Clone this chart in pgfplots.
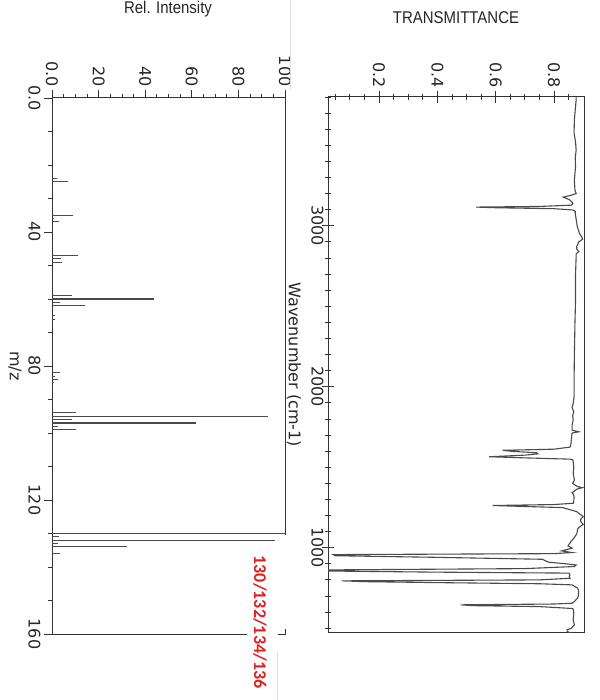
\documentclass[border=0pt]{standalone}
\usepackage{pgfplots}
\pgfplotsset{compat=1.18}
\usepackage{fontspec}
\setmainfont{DejaVu Sans}
\newfontfamily\titlefont[FakeStretch=0.88]{Liberation Sans}
\newfontfamily\redfont{Carlito}
\definecolor{ln}{HTML}{4A4A4A}
\definecolor{ax}{HTML}{333333}
\definecolor{lbl}{HTML}{E02020}
\pgfplotsset{rotstyle/.style={
  scale only axis, anchor=south west,
  axis line style={ax, line width=1pt},
  every tick/.style={ax, line width=0.8pt},
  tick label style={font=\fontsize{16}{18}\selectfont, text=black!85},
  /pgf/number format/assume math mode=true,
  xticklabel style={rotate=-90, anchor=east},
  yticklabel style={rotate=-90, anchor=north},
  xtick pos=right, xticklabel pos=right, ytick pos=left,
}}
\begin{document}
\begin{tikzpicture}[x=1pt,y=1pt]
\path[use as bounding box] (0,0) rectangle (599,700);
% ---------------- Mass spectrum ----------------
\begin{axis}[rotstyle, at={(52pt,66pt)}, width=233pt, height=536pt,
  xmin=0, xmax=100, ymin=0, ymax=160, y dir=reverse,
  xtick={0,20,40,60,80,100}, xticklabels={0.0,20,40,60,80,100},
  minor x tick num=3,
  ytick={0,40,80,120,160}, yticklabels={0.0,40,80,120,160},
  minor y tick num=3,
  tick align=outside, major tick length=8pt, minor tick length=4pt,
  clip=false]
\addplot[xcomb, ln, line width=1.1pt] coordinates {
(2,24) (6.7,25) (9.2,35) (1,36) (3.1,37) (11.3,47) (3.9,48) (4.1,49)
(8.4,59) (43.9,60) (3.4,61) (14.2,62) (1.3,65) (1.3,66)
(3.4,82) (1.3,83) (2.4,84) (1,85)
(10.2,94) (92.6,95) (8.4,96) (61.7,97) (2.4,98) (10.3,99)
(100,130) (3,131) (95.7,132) (2.4,133) (32.3,134) (0.5,135) (3.4,136)
};
\end{axis}
% ---------------- IR spectrum ----------------
\begin{axis}[rotstyle, at={(328pt,67pt)}, width=256pt, height=536pt,
  xmin=0.025, xmax=0.903, ymin=470, ymax=3800,
  xtick={0.2,0.4,0.6,0.8}, xticklabels={0.2,0.4,0.6,0.8},
  minor xtick={0.05,0.1,0.15,0.25,0.3,0.35,0.45,0.5,0.55,0.65,0.7,0.75,0.85},
  ytick={1000,2000,3000}, yticklabels={1000,2000,3000},
  minor ytick={500,600,...,3800},
  yticklabel shift=-5pt,
  tick align=center, major tick length=12pt, minor tick length=6pt]
\addplot[ln, line width=1.1pt] table[x=T, y=wn] {
wn T
3800 0.876
3781 0.876
3700 0.872
3657 0.870
3574 0.869
3520 0.874
3471 0.876
3420 0.873
3367 0.874
3284 0.870
3222 0.872
3200 0.876
3190 0.860
3178 0.832
3168 0.845
3160 0.855
3140 0.865
3128 0.860
3120 0.750
3116 0.533
3112 0.600
3106 0.800
3098 0.865
3090 0.873
3077 0.873
2995 0.880
2950 0.888
2932 0.895
2916 0.898
2900 0.885
2870 0.878
2855 0.878
2840 0.885
2825 0.876
2808 0.876
2700 0.874
2539 0.874
2400 0.872
2200 0.870
2042 0.869
1939 0.869
1897 0.866
1870 0.862
1845 0.868
1820 0.864
1794 0.866
1760 0.862
1730 0.862
1720 0.885
1712 0.862
1680 0.860
1640 0.858
1625 0.855
1612 0.800
1605 0.624
1598 0.660
1590 0.740
1583 0.745
1575 0.700
1565 0.578
1558 0.700
1550 0.855
1545 0.865
1500 0.868
1463 0.866
1420 0.870
1400 0.864
1380 0.880
1373 0.898
1365 0.880
1342 0.862
1335 0.866
1317 0.869
1290 0.868
1276 0.866
1268 0.800
1262 0.590
1256 0.700
1249 0.830
1224 0.878
1193 0.900
1173 0.890
1160 0.893
1145 0.900
1120 0.882
1085 0.878
1059 0.868
1038 0.858
1011 0.848
997 0.862
980 0.826
970 0.862
963 0.800
957 0.043
950 0.050
940 0.400
928 0.760
910 0.781
900 0.840
893 0.876
883 0.870
870 0.700
862 0.026
855 0.026
848 0.400
842 0.852
830 0.855
821 0.852
810 0.855
800 0.750
794 0.072
789 0.150
783 0.400
776 0.750
769 0.862
750 0.880
738 0.884
700 0.884
686 0.880
665 0.870
655 0.862
650 0.800
645 0.480
640 0.520
634 0.750
622 0.865
600 0.868
552 0.866
520 0.870
500 0.860
490 0.845
479 0.845
470 0.860
};
\end{axis}
% white patch behind the red label (as in the reference)
\fill[white] (247,0) rectangle (278,155);
\fill[white] (280,71) rectangle (290,165);
% faint panel separators
\draw[gray!25, line width=0.6pt] (290,610) -- (290,700);
\draw[gray!25, line width=0.6pt] (277,0) -- (277,48);
% labels
\node[font=\titlefont\fontsize{17}{20}\selectfont, text=black!85] at (168,691) {Rel. Intensity};
\node[font=\titlefont\fontsize{17}{20}\selectfont, text=black!85] at (456,682) {TRANSMITTANCE};
\node[rotate=-90, font=\fontsize{16}{18}\selectfont, text=black!85] at (15,334) {m/z};
\node[rotate=-90, font=\fontsize{16}{18}\selectfont, text=black!85] at (294,335) {Wavenumber (cm-1)};
\node[rotate=-90, font=\redfont\bfseries\fontsize{18}{20}\selectfont, text=lbl] at (260,78) {130/132/134/136};
\end{tikzpicture}
\end{document}
